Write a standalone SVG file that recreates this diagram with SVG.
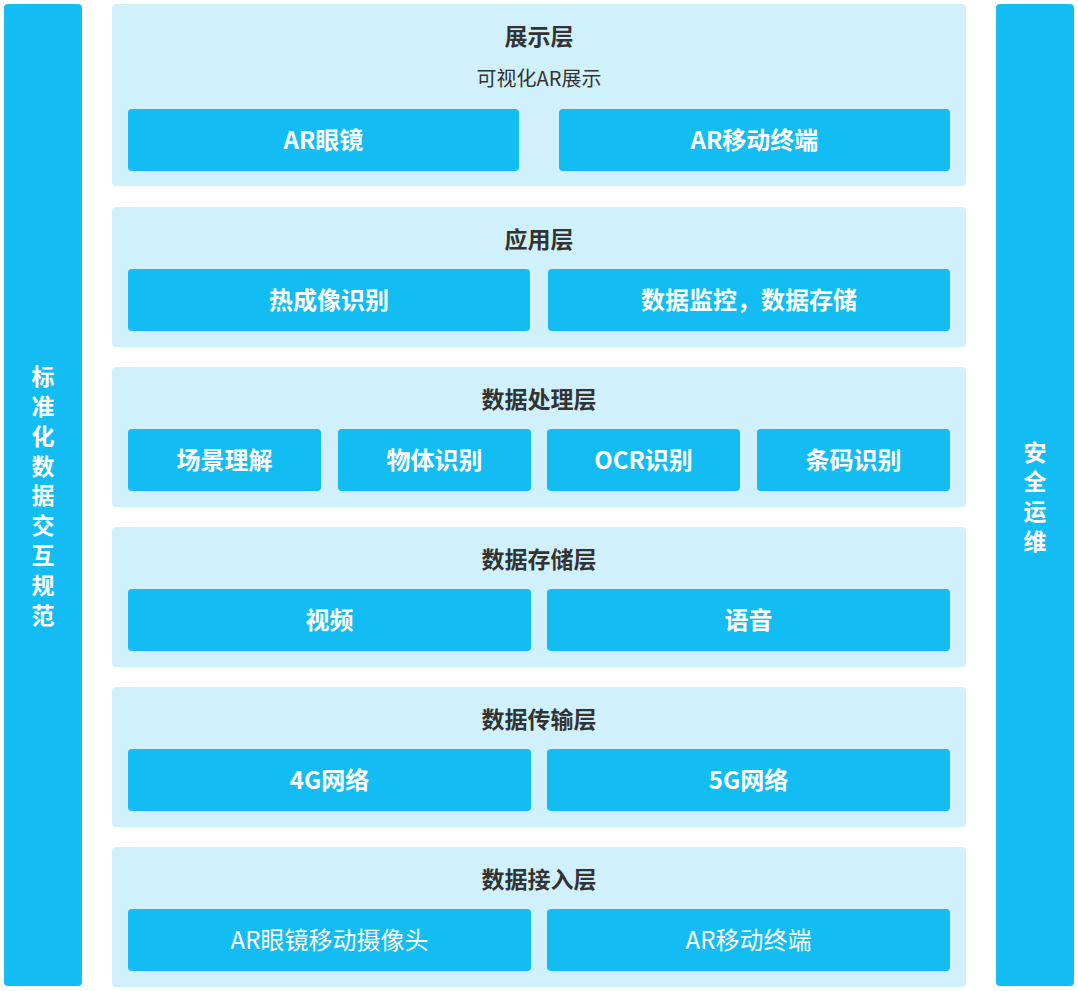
<svg xmlns="http://www.w3.org/2000/svg" width="1078" height="991" viewBox="0 0 1078 991">
<style>
.bar{fill:#13bdf3}
.panel{fill:#d0f1fb}
.box{fill:#13bdf3}
text{font-family:"Noto Sans CJK SC","Noto Sans",sans-serif}
.vt{fill:#fff;font-size:23px;font-weight:bold;text-anchor:middle;writing-mode:vertical-rl;letter-spacing:6.8px}
.title{fill:#333;font-size:23px;font-weight:bold;text-anchor:middle;dominant-baseline:central}
.sub{fill:#333;font-size:20px;text-anchor:middle;dominant-baseline:central}
.bt{fill:#fff;font-size:24px;font-weight:bold;text-anchor:middle;dominant-baseline:central}
.bn{fill:#fff;font-size:24px;text-anchor:middle;dominant-baseline:central}
</style>
<g id="left-bar">
<rect class="bar" x="4" y="4" width="78" height="982" rx="4"/>
<text class="vt" x="43" y="499">标准化数据交互规范</text>
</g>
<g id="right-bar">
<rect class="bar" x="996" y="4" width="78" height="982" rx="4"/>
<text class="vt" x="1035" y="500">安全运维</text>
</g>
<g id="layer-display">
<rect class="panel" x="112" y="4" width="854" height="182" rx="4"/>
<text class="title" x="539" y="35">展示层</text>
<text class="sub" x="539" y="77">可视化AR展示</text>
<g id="n-ar-glasses"><rect class="box" x="128" y="109" width="391" height="62" rx="4"/><text class="bt" x="323.5" y="138.5">AR眼镜</text></g>
<g id="n-ar-mobile"><rect class="box" x="559" y="109" width="391" height="62" rx="4"/><text class="bt" x="754.5" y="138.5">AR移动终端</text></g>
</g>
<g id="layer-app">
<rect class="panel" x="112" y="207" width="854" height="140" rx="4"/>
<text class="title" x="539" y="238">应用层</text>
<g id="n-thermal"><rect class="box" x="128" y="269" width="402" height="62" rx="4"/><text class="bt" x="329" y="298.5">热成像识别</text></g>
<g id="n-monitor"><rect class="box" x="548" y="269" width="402" height="62" rx="4"/><text class="bt" x="749" y="298.5">数据监控，数据存储</text></g>
</g>
<g id="layer-process">
<rect class="panel" x="112" y="367" width="854" height="140" rx="4"/>
<text class="title" x="539" y="398">数据处理层</text>
<g id="n-scene"><rect class="box" x="128" y="429" width="193" height="62" rx="4"/><text class="bt" x="224.5" y="458.5">场景理解</text></g>
<g id="n-object"><rect class="box" x="338" y="429" width="193" height="62" rx="4"/><text class="bt" x="434.5" y="458.5">物体识别</text></g>
<g id="n-ocr"><rect class="box" x="547" y="429" width="193" height="62" rx="4"/><text class="bt" x="643.5" y="458.5">OCR识别</text></g>
<g id="n-barcode"><rect class="box" x="757" y="429" width="193" height="62" rx="4"/><text class="bt" x="853.5" y="458.5">条码识别</text></g>
</g>
<g id="layer-storage">
<rect class="panel" x="112" y="527" width="854" height="140" rx="4"/>
<text class="title" x="539" y="558">数据存储层</text>
<g id="n-video"><rect class="box" x="128" y="589" width="403" height="62" rx="4"/><text class="bt" x="329.5" y="618.5">视频</text></g>
<g id="n-voice"><rect class="box" x="547" y="589" width="403" height="62" rx="4"/><text class="bt" x="748.5" y="618.5">语音</text></g>
</g>
<g id="layer-transfer">
<rect class="panel" x="112" y="687" width="854" height="140" rx="4"/>
<text class="title" x="539" y="718">数据传输层</text>
<g id="n-4g"><rect class="box" x="128" y="749" width="403" height="62" rx="4"/><text class="bt" x="329.5" y="778.5">4G网络</text></g>
<g id="n-5g"><rect class="box" x="547" y="749" width="403" height="62" rx="4"/><text class="bt" x="748.5" y="778.5">5G网络</text></g>
</g>
<g id="layer-access">
<rect class="panel" x="112" y="847" width="854" height="140" rx="4"/>
<text class="title" x="539" y="878">数据接入层</text>
<g id="n-camera"><rect class="box" x="128" y="909" width="403" height="62" rx="4"/><text class="bn" x="329.5" y="938.5">AR眼镜移动摄像头</text></g>
<g id="n-terminal"><rect class="box" x="547" y="909" width="403" height="62" rx="4"/><text class="bn" x="748.5" y="938.5">AR移动终端</text></g>
</g>
<g id="connectors"></g>
</svg>
